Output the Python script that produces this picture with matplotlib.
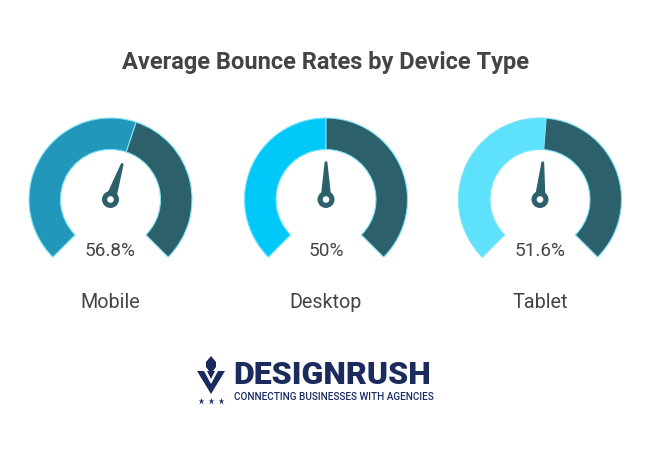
import matplotlib.pyplot as plt
from matplotlib.patches import Wedge, Circle, Polygon, Ellipse
import numpy as np

plt.rcParams['font.family'] = ['Roboto', 'DejaVu Sans']

# data
devices = ['Mobile', 'Desktop', 'Tablet']
bounce_rates = [56.8, 50.0, 51.6]
value_labels = ['56.8%', '50%', '51.6%']
fill_colors = ['#2297ba', '#00c9f9', '#5ee1fb']
dark_color = '#2c616c'

W, H = 650, 451
fig = plt.figure(figsize=(6.5, 4.51), dpi=100)
ax = fig.add_axes([0, 0, 1, 1])
ax.set_xlim(0, W)
ax.set_ylim(0, H)
ax.axis('off')

centers_x = [110.5, 326, 540]
cy = H - 199.5
r_out, r_in = 81.5, 50

for cx, v, lab, dev, col in zip(centers_x, bounce_rates, value_labels, devices, fill_colors):
    split = 225 - 270 * v / 100
    ax.add_patch(Wedge((cx, cy), r_out, split, 225, width=r_out - r_in,
                       facecolor=col, edgecolor='#7fe3f7', lw=0.8))
    ax.add_patch(Wedge((cx, cy), r_out, -45, split, width=r_out - r_in,
                       facecolor=dark_color, edgecolor='#7fe3f7', lw=0.8))
    # needle
    a = np.radians(split)
    d = np.array([np.cos(a), np.sin(a)])
    p = np.array([-d[1], d[0]])
    c = np.array([cx, cy])
    tip = c + d * 38
    pts = [c + p * 5.5, tip + p * 1.3, tip - p * 1.3, c - p * 5.5]
    ax.add_patch(Polygon(pts, closed=True, facecolor=dark_color, edgecolor='none'))
    ax.add_patch(Circle((cx, cy), 8.5, facecolor=dark_color, edgecolor='none'))
    ax.add_patch(Circle((cx, cy), 3.3, facecolor='white', edgecolor='none'))
    ax.text(cx, H - 251, lab, ha='center', va='center', fontsize=13.7, color='#444444')
    ax.text(cx, H - 302, dev, ha='center', va='center', fontsize=14.2, color='#444444')

ax.text(325, H - 63, 'Average Bounce Rates by Device Type', ha='center', va='center',
        fontsize=17, fontweight='bold', color='#444444')

# logo
navy = '#1b2b5e'
ax.text(233, H - 375, 'DESIGNRUSH', ha='left', va='center', fontsize=23,
        fontweight='black', color=navy)
ax.text(234, H - 397, 'CONNECTING BUSINESSES WITH AGENCIES', ha='left', va='center',
        fontsize=7.2, fontweight='medium', color=navy)
ax.add_patch(Polygon([(197, H - 371), (225, H - 371), (211, H - 394)], closed=True,
                     facecolor=navy, edgecolor='none'))
ax.add_patch(Polygon([(204, H - 371), (218, H - 371), (211, H - 384)], closed=True,
                     facecolor='white', edgecolor='none'))
ax.add_patch(Polygon([(207, H - 371), (215, H - 371), (211, H - 379)], closed=True,
                     facecolor=navy, edgecolor='none'))
ax.add_patch(Polygon([(211, H - 356), (216, H - 362), (216, H - 367), (213, H - 371),
                      (209, H - 371), (206, H - 367), (206, H - 362)], closed=True,
                     facecolor=navy, edgecolor='none'))
for sx in [201, 211, 221]:
    ax.plot(sx, H - 401, marker='*', ms=4.5, color=navy, mec='none')

fig.savefig('out.png', dpi=100, facecolor='white')
